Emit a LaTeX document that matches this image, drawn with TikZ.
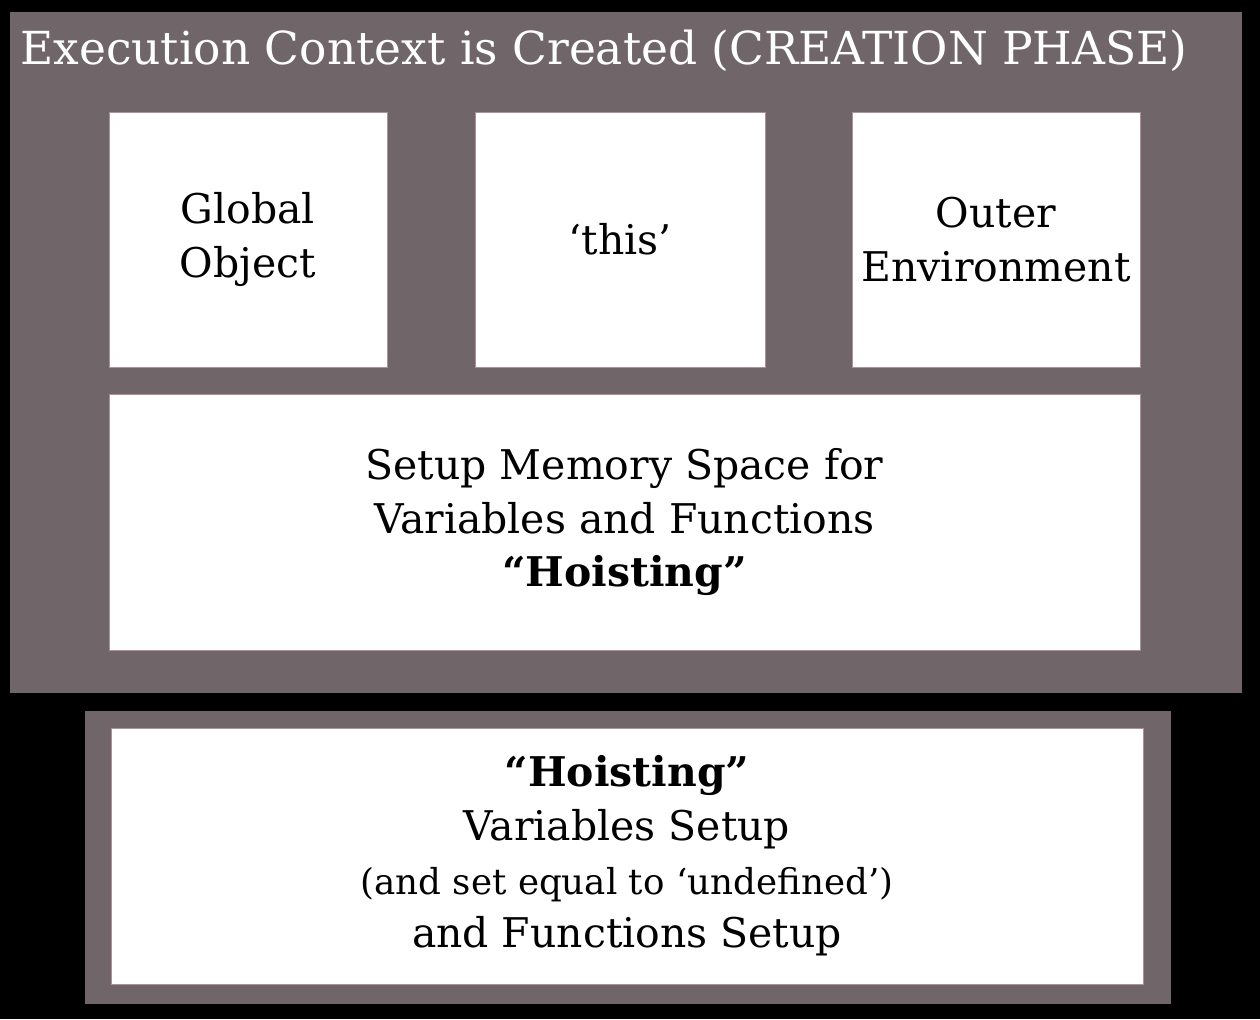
\documentclass[tikz,border=0pt]{standalone}
\usepackage{fontspec}
\setmainfont{DejaVu Serif}
\definecolor{slate}{RGB}{112,102,106}
\definecolor{rim}{RGB}{176,144,150}
\tikzset{
	card/.style={draw=rim, line width=0.4pt, fill=white, align=center,
		inner sep=0pt, font=\fontsize{23.3}{30.6}\selectfont},
	panel/.style={fill=slate, draw=none}
}
\begin{document}
\begin{tikzpicture}[x=0.02cm, y=-0.02cm]
% black page
\fill[black] (0,0) rectangle (1260,1019);
\useasboundingbox (0,0) rectangle (1260,1019);
% two panels
\fill[panel] (10,12) rectangle (1242,693);
\fill[panel] (85,711) rectangle (1171,1004);
\node[anchor=base west, text=white, inner sep=0pt,
	font=\fontsize{25.9}{30}\selectfont] (title) at (20,64)
	{Execution Context is Created (CREATION PHASE)};
% top row
\node[card, minimum width=5.56cm, minimum height=5.1cm] (global) at (248,239.5)
	{Global\\Object};
\node[card, minimum width=5.8cm, minimum height=5.1cm] (this) at (620,239.5)
	{‘this’};
\node[card, minimum width=5.76cm, minimum height=5.1cm] (outer) at (996,239.5)
	{Outer\\Environment};
% memory
\node[card, minimum width=20.62cm, minimum height=5.12cm] (memory) at (624.5,522)
	{Setup Memory Space for\\Variables and Functions\\\textbf{“Hoisting”}};
% lower panel
\node[card, minimum width=20.64cm, minimum height=5.12cm] (hoist) at (627,856)
	{\textbf{“Hoisting”}\\Variables Setup\\
	{\fontsize{20.3}{26}\selectfont (and set equal to ‘undefined’)}\\
	and Functions Setup};
\end{tikzpicture}
\end{document}
